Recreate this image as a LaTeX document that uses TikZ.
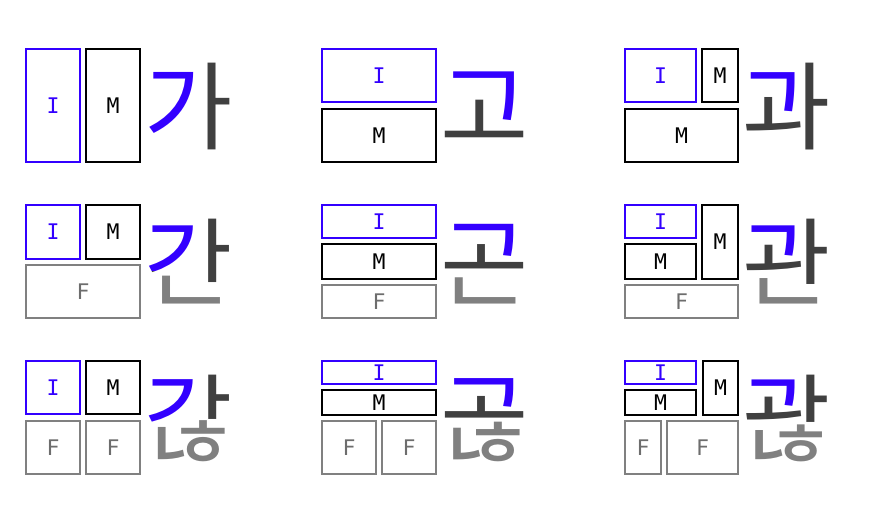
\documentclass[tikz,border=0pt]{standalone}
\usepackage{fontspec}
\newfontfamily\hangul{Noto Sans CJK KR}
\newfontfamily\slotfont{DejaVu Sans Mono}
\usetikzlibrary{positioning}
\definecolor{iblue}{HTML}{3300FF}
\definecolor{mgray}{HTML}{404040}
\definecolor{fgray}{HTML}{808080}
\tikzset{
	slot/.style={draw, line width=1.5pt, inner sep=0pt, font=\slotfont\fontsize{21.5}{21.5}\selectfont},
	slot I/.style={slot, draw=iblue, text=iblue},
	slot M/.style={slot, draw=black, text=black},
	slot F/.style={slot, draw=fgray, text=fgray!85!black},
	jamo/.style={anchor=base west, inner sep=0pt, font=\hangul\fontsize{96}{96}\selectfont}
}
% syllable coloured by clipping: name, origin, char, initial region, final region
\newcommand\syllable[5]{%
	\begin{scope}[shift={#2}, x=96pt, y=96pt]
		\begin{scope}\clip #4; \node[jamo, text=iblue] (#1-I) at (0,0) {#3};\end{scope}
		\def\finalpart{#5}%
		\ifx\finalpart\empty\else
		\begin{scope}\clip #5; \node[jamo, text=fgray] (#1-F) at (0,0) {#3};\end{scope}
		\fi
		\begin{scope}[even odd rule]\clip (-0.2,-0.3) rectangle (1.2,1.1) #4 #5; \node[jamo, text=mgray] (#1-M) at (0,0) {#3};\end{scope}
	\end{scope}}
\begin{document}
\begin{tikzpicture}[x=1pt, y=-1pt]
\useasboundingbox (0,0) rectangle (878,515);
\foreach \n/\kind/\xa/\ya/\xb/\yb in {
	ga-i/I/26/49/80/162, ga-m/M/86/49/140/162,
	go-i/I/322/49/436/102, go-m/M/322/109/436/162,
	gwa-i/I/625/49/696/102, gwa-m1/M/702/49/738/102, gwa-m2/M/625/109/738/162,
	gan-i/I/26/205/80/259, gan-m/M/86/205/140/259, gan-f/F/26/265/140/318,
	gon-i/I/322/205/436/238, gon-m/M/322/244/436/279, gon-f/F/322/285/436/318,
	gwan-i/I/625/205/696/238, gwan-m1/M/702/205/738/279, gwan-m2/M/625/244/696/279, gwan-f/F/625/285/738/318,
	ganh-i/I/26/361/80/414, ganh-m/M/86/361/140/414, ganh-f1/F/26/421/80/474, ganh-f2/F/86/421/140/474,
	gonh-i/I/322/361/436/384, gonh-m/M/322/390/436/415, gonh-f1/F/322/421/376/474, gonh-f2/F/382/421/436/474,
	gwanh-i/I/625/361/696/384, gwanh-m1/M/703/361/738/415, gwanh-m2/M/625/390/696/415, gwanh-f1/F/625/421/661/474, gwanh-f2/F/667/421/738/474}
	\node[slot \kind, minimum width={(\xb-\xa)*1pt}, minimum height={(\yb-\ya)*1pt}] (b-\n) at ({(\xa+\xb)/2},{(\ya+\yb)/2}) {\kind};

% row 1
\syllable{ga}{(144.7,142.3)}{가}{(-0.2,1.1) -- (0.6,1.1) -- (0.6,-0.3) -- (-0.2,-0.3) -- cycle}{}
\syllable{go}{(440.7,142.3)}{고}{(-0.2,1.1) -- (1.2,1.1) -- (1.2,0.17) -- (0.55,0.17) -- (0.55,0.47) -- (-0.2,0.47) -- cycle}{}
\syllable{gwa}{(742.7,142.3)}{과}{(-0.2,1.1) -- (0.6,1.1) -- (0.6,0.28) -- (0.38,0.28) -- (0.38,0.5) -- (-0.2,0.5) -- cycle}{}
% row 2
\syllable{gan}{(144.7,298.3)}{간}{(-0.2,1.1) -- (0.6,1.1) -- (0.6,0.29) -- (-0.2,0.29) -- cycle}{(-0.2,-0.3) -- (1.2,-0.3) -- (1.2,0.14) -- (0.6,0.14) -- (0.6,0.28) -- (-0.2,0.28) -- cycle}
\syllable{gon}{(440.7,298.3)}{곤}{(-0.2,1.1) -- (1.2,1.1) -- (1.2,0.41) -- (0.55,0.41) -- (0.55,0.59) -- (-0.2,0.59) -- cycle}{(-0.2,-0.3) rectangle (1.2,0.27)}
\syllable{gwan}{(742.7,298.3)}{관}{(-0.2,1.1) -- (0.6,1.1) -- (0.6,0.415) -- (0.38,0.415) -- (0.38,0.585) -- (-0.2,0.585) -- cycle}{(-0.2,-0.3) -- (1.2,-0.3) -- (1.2,0.12) -- (0.62,0.12) -- (0.62,0.25) -- (-0.2,0.25) -- cycle}
% row 3
\syllable{ganh}{(144.7,454.3)}{갆}{(-0.2,1.1) -- (0.56,1.1) -- (0.56,0.38) -- (0.3,0.38) -- (0.3,0.33) -- (-0.2,0.33) -- cycle}{(-0.2,-0.3) -- (1.2,-0.3) -- (1.2,0.365) -- (0.3,0.365) -- (0.3,0.315) -- (-0.2,0.315) -- cycle}
\syllable{gonh}{(440.7,454.3)}{곦}{(-0.2,1.1) -- (1.2,1.1) -- (1.2,0.465) -- (0.55,0.465) -- (0.55,0.625) -- (-0.2,0.625) -- cycle}{(-0.2,-0.3) rectangle (1.2,0.36)}
\syllable{gwanh}{(742.7,454.3)}{괂}{(-0.2,1.1) -- (0.6,1.1) -- (0.6,0.495) -- (0.38,0.495) -- (0.38,0.62) -- (-0.2,0.62) -- cycle}{(-0.2,-0.3) rectangle (1.2,0.327)}
\end{tikzpicture}
\end{document}
